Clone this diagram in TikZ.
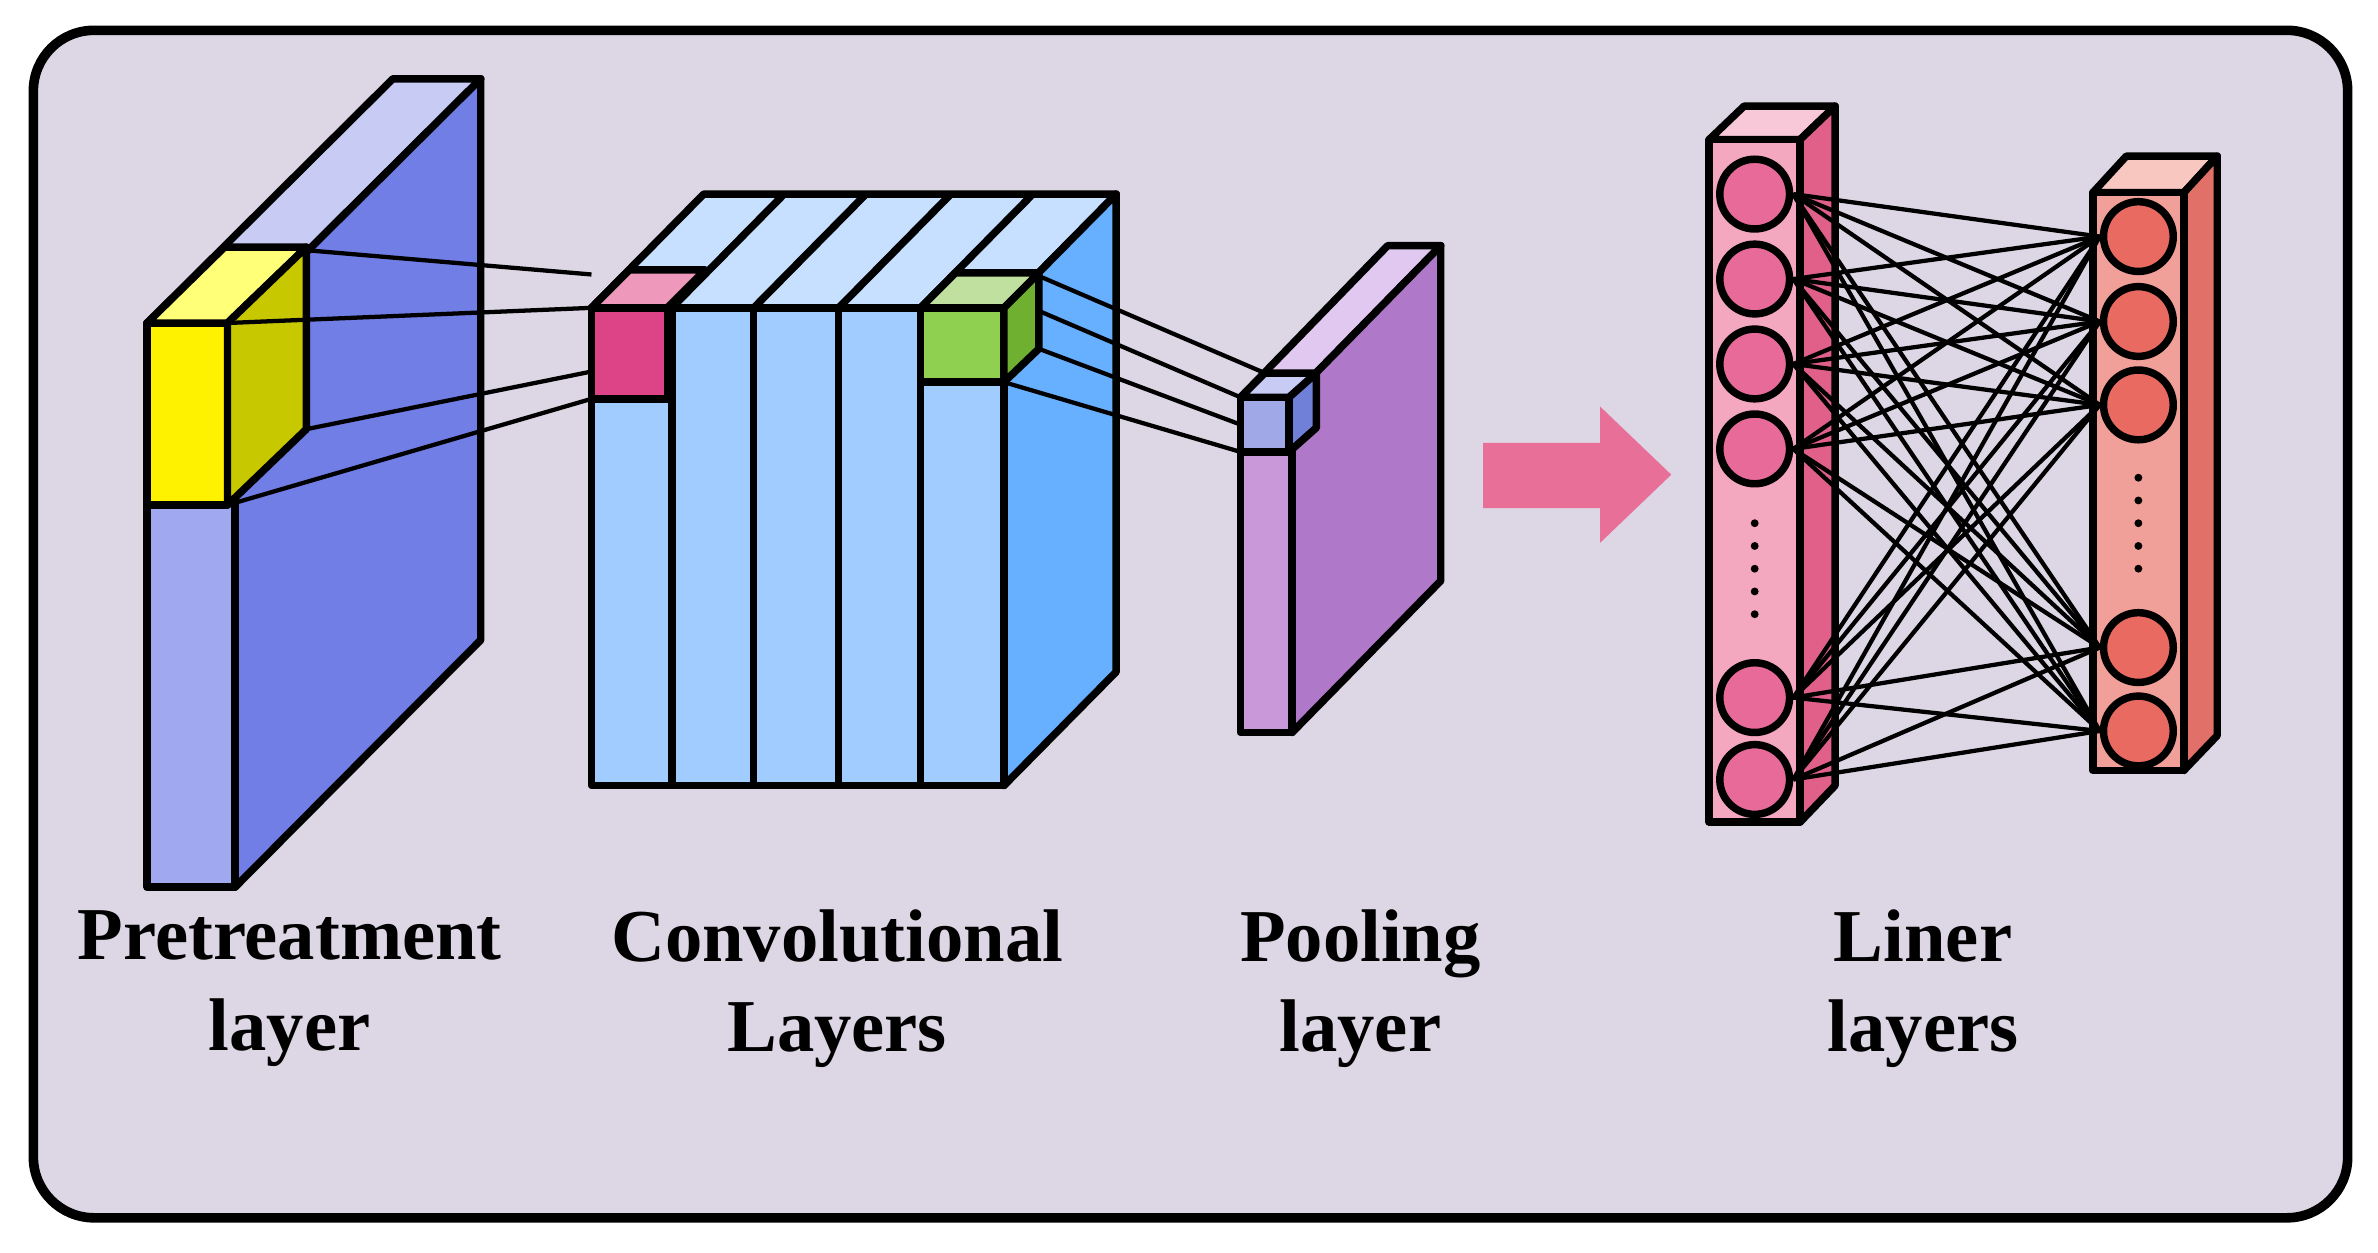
\documentclass[tikz,border=0pt]{standalone}
\usepackage{fontspec}
\setmainfont{Liberation Serif}
\begin{document}
\begin{tikzpicture}[x=0.1mm,y=-0.1mm,line join=round,
  ed/.style={draw=black,line width=1.4pt},
  cn/.style={draw=black,line width=0.8pt},
  lbl/.style={font=\fontsize{14}{17}\selectfont\bfseries,align=center},
  neu/.style={circle,draw=black,line width=1.4pt,minimum size=4.6mm,inner sep=0pt}]
\useasboundingbox (0,0) rectangle (1568,826);
\draw[fill={rgb,255:red,221;green,214;blue,229},line width=1.8pt,rounded corners=4mm] (22,20) rectangle (1548,803);
% Pretreatment
\draw[ed,fill={rgb,255:red,160;green,168;blue,240}] (97,213) rectangle (155,585);
\draw[ed,fill={rgb,255:red,200;green,204;blue,245}] (97,213)--(259,52)--(317,52)--(155,213)--cycle;
\draw[ed,fill={rgb,255:red,112;green,126;blue,230}] (155,213)--(317,52)--(317,422)--(155,585)--cycle;
\draw[ed,fill=yellow] (97,213) rectangle (150,333);
\draw[ed,fill={rgb,255:red,255;green,255;blue,120}] (97,213)--(148,163)--(202,163)--(150,213)--cycle;
\draw[ed,fill={rgb,255:red,200;green,200;blue,0}] (150,213)--(202,163)--(202,283)--(150,333)--cycle;
\coordinate (y1) at (202,165); \coordinate (y2) at (150,213);
\coordinate (y3) at (202,283); \coordinate (y4) at (150,333);
% Conv
\draw[ed,fill={rgb,255:red,200;green,224;blue,255}] (390,203)--(464,128)--(736,128)--(662,203)--cycle;
\foreach \a in {443,497,553,607}{\draw[ed] (\a,203)--(\a+74,128);}
\draw[ed,fill={rgb,255:red,102;green,176;blue,255}] (662,203)--(736,128)--(736,443)--(662,518)--cycle;
\foreach \a/\b in {390/443,443/497,497/553,553/607,607/662}{\draw[ed,fill={rgb,255:red,160;green,204;blue,255}] (\a,203) rectangle (\b,518);}
\draw[ed,fill={rgb,255:red,238;green,153;blue,187}] (390,203)--(415,178)--(465,178)--(440,203)--cycle;
\draw[ed,fill={rgb,255:red,221;green,68;blue,136}] (390,203) rectangle (440,263);
\coordinate (p1) at (390,181); \coordinate (p2) at (390,203);
\coordinate (p3) at (390,245); \coordinate (p4) at (390,263);
\draw[ed,fill={rgb,255:red,192;green,224;blue,160}] (607,203)--(630,180)--(685,180)--(662,203)--cycle;
\draw[ed,fill={rgb,255:red,144;green,208;blue,80}] (607,203) rectangle (662,252);
\draw[ed,fill={rgb,255:red,112;green,176;blue,48}] (662,203)--(685,180)--(685,230)--(662,252)--cycle;
\coordinate (g1) at (685,182); \coordinate (g2) at (685,205);
\coordinate (g3) at (685,230); \coordinate (g4) at (662,252);
% Pooling
\draw[ed,fill={rgb,255:red,224;green,200;blue,240}] (818,262)--(915,162)--(950,162)--(852,262)--cycle;
\draw[ed,fill={rgb,255:red,176;green,120;blue,200}] (852,262)--(950,162)--(950,383)--(852,483)--cycle;
\draw[ed,fill={rgb,255:red,200;green,152;blue,216}] (818,262) rectangle (852,483);
\draw[ed,fill={rgb,255:red,200;green,204;blue,245}] (818,262)--(834,246)--(868,246)--(850,262)--cycle;
\draw[ed,fill={rgb,255:red,160;green,168;blue,232}] (818,262) rectangle (850,298);
\draw[ed,fill={rgb,255:red,112;green,128;blue,216}] (850,262)--(868,246)--(868,282)--(850,298)--cycle;
\coordinate (q1) at (834,246); \coordinate (q2) at (818,262);
\coordinate (q3) at (818,280); \coordinate (q4) at (818,298);
\foreach \i in {1,2,3,4}{\draw[cn] (y\i)--(p\i); \draw[cn] (g\i)--(q\i);}
% Arrow
\fill[fill={rgb,255:red,232;green,112;blue,152}] (978,292)--(1055,292)--(1055,268)--(1102,313)--(1055,358)--(1055,335)--(978,335)--cycle;
% Liner 1
\draw[ed,fill={rgb,255:red,248;green,200;blue,216}] (1127,92)--(1150,70)--(1210,70)--(1187,92)--cycle;
\draw[ed,fill={rgb,255:red,224;green,96;blue,138}] (1187,92)--(1210,70)--(1210,518)--(1187,542)--cycle;
\draw[ed,fill={rgb,255:red,244;green,168;blue,192}] (1127,92) rectangle (1187,542);
\foreach \y [count=\i] in {128,184,240,296,460,514}{\node[neu,fill={rgb,255:red,232;green,106;blue,152}] (a\i) at (1157,\y) {};}
\foreach \y in {345,360,375,390,405}{\fill (1157,\y) circle (2.6);}
% Liner 2
\draw[ed,fill={rgb,255:red,248;green,200;blue,192}] (1380,127)--(1402,103)--(1462,103)--(1440,127)--cycle;
\draw[ed,fill={rgb,255:red,224;green,112;blue,104}] (1440,127)--(1462,103)--(1462,485)--(1440,508)--cycle;
\draw[ed,fill={rgb,255:red,240;green,160;blue,152}] (1380,127) rectangle (1440,508);
\foreach \y [count=\i] in {156,212,267,427,482}{\node[neu,fill={rgb,255:red,232;green,106;blue,96}] (b\i) at (1410,\y) {};}
\foreach \y in {315,330,345,360,375}{\fill (1410,\y) circle (2.6);}
\foreach \i in {1,...,6}{\foreach \j in {1,...,5}{\draw[cn] (a\i.east)--(b\j.west);}}
% Labels
\node[lbl] (l1) at (191,652) {Pretreatment\\layer};
\node[lbl] (l2) at (552,652) {Convolutional\\Layers};
\node[lbl] (l3) at (897,652) {Pooling\\layer};
\node[lbl] (l4) at (1268,652) {Liner\\layers};
\end{tikzpicture}
\end{document}
